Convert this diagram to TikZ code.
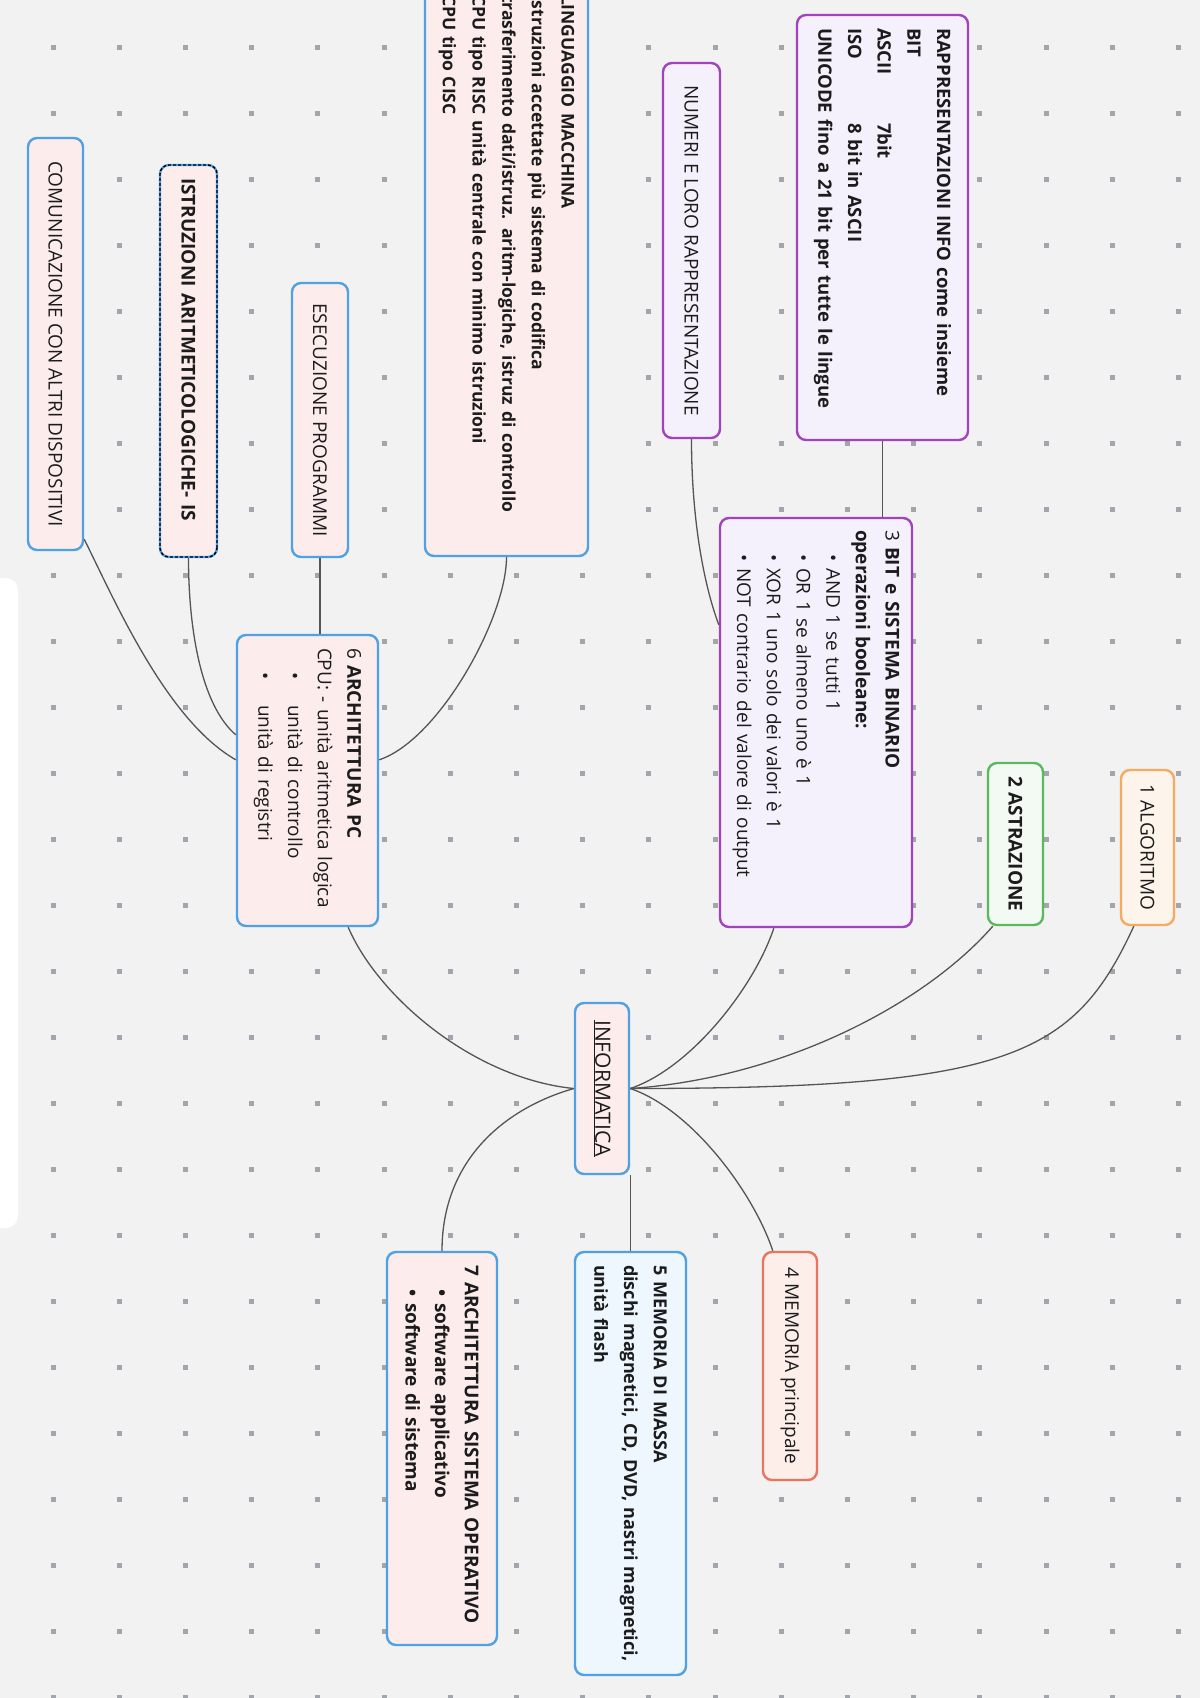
\documentclass[tikz,border=0pt]{standalone}
\usepackage{fontspec}
\setmainfont{Open Sans}
\usetikzlibrary{calc}
\definecolor{bgcol}{RGB}{242,242,242}
\definecolor{dotcol}{RGB}{160,166,172}
\definecolor{linkcol}{RGB}{85,85,85}
\definecolor{inkcol}{RGB}{28,28,28}
\definecolor{bluebd}{RGB}{80,160,228}
\definecolor{pinkfill}{RGB}{253,236,236}
\definecolor{skyfill}{RGB}{238,246,254}
\definecolor{purplebd}{RGB}{162,66,190}
\definecolor{lavfill}{RGB}{245,241,252}
\definecolor{greenbd}{RGB}{92,184,96}
\definecolor{greenfill}{RGB}{243,250,243}
\definecolor{orangebd}{RGB}{246,170,96}
\definecolor{orangefill}{RGB}{253,245,235}
\definecolor{redbd}{RGB}{234,116,96}
\definecolor{redfill}{RGB}{253,238,234}
\newcommand\mapfont{\fontsize{19}{29.7}\selectfont}
\newcommand\boldfont[1]{\fontsize{#1}{29.7}\selectfont\bfseries}
\newcommand\bul{\hspace*{24pt}\textbullet\hspace{7pt}}
\begin{document}
\begin{tikzpicture}[x=1pt, y=-1pt,
  box/.style={draw, rounded corners=9pt, line width=2.4pt, rotate=-90, inner xsep=13pt, inner ysep=0pt, text=inkcol, font=\mapfont},
  pinkbox/.style={box, draw=bluebd, fill=pinkfill},
  purplebox/.style={box, draw=purplebd, fill=lavfill},
  dashbox/.style={pinkbox, postaction={draw=black, line width=1.4pt, dash pattern=on 3pt off 2pt}},
  link/.style={draw=linkcol, line width=1.3pt}]
\useasboundingbox (0,0) rectangle (1200,1698);
\clip (0,0) rectangle (1200,1698);
\fill[bgcol] (0,0) rectangle (1200,1698);
\fill[white, rounded corners=12pt] (-30,578) rectangle (18,1228);
\foreach \i in {0,...,17}
  \foreach \j in {0,...,25}
    \fill[dotcol] ({53+66.2*\i},{47+66*\j}) +(-2.5,-2.5) rectangle +(2.5,2.5);

\node[purplebox, font=\boldfont{18.5}, text width=399pt, minimum height=171pt, align=left] (rappr) at (882.5,227.5) {RAPPRESENTAZIONI INFO come insieme\\ BIT\\ \makebox[95pt][l]{ASCII}7bit\\ \makebox[95pt][l]{ISO}8 bit in ASCII\\ UNICODE fino a 21 bit per tutte le lingue};
\node[purplebox, minimum width=375pt, minimum height=57pt] (numeri) at (691.5,250.5) {NUMERI E LORO RAPPRESENTAZIONE};
\node[purplebox, text width=385pt, minimum height=192pt, inner xsep=12pt, align=left] (bit) at (816,722.5) {3 \textbf{BIT e SISTEMA BINARIO}\\ \textbf{operazioni booleane:}\\ \bul AND 1 se tutti 1\\ \bul OR 1 se almeno uno è 1\\ \bul XOR 1 uno solo dei valori è 1\\ \bul NOT contrario del valore di output};
\node[pinkbox, font=\boldfont{17.5}, text width=541pt, inner xsep=20pt, minimum height=163pt, align=left] (ling) at (506.5,265.5) {LINGUAGGIO MACCHINA\\ Istruzioni accettate più sistema di codifica\\ \mbox{trasferimento dati/istruz. aritm-logiche, istruz di controllo}\\ CPU tipo RISC unità centrale con minimo istruzioni\\ CPU tipo CISC};
\node[pinkbox, minimum width=274pt, minimum height=56pt] (esec) at (320,420) {ESECUZIONE PROGRAMMI};
\node[dashbox, font=\boldfont{19}, text width=366pt, minimum height=57pt, align=left] (istr) at (188.5,361) {ISTRUZIONI ARITMETICOLOGICHE- IS};
\node[pinkbox, minimum width=412pt, minimum height=55pt] (comm) at (55.5,344) {COMUNICAZIONE CON ALTRI DISPOSITIVI};
\node[pinkbox, text width=265pt, minimum height=141pt, align=left] (arch6) at (307.5,780.5) {6 \textbf{ARCHITETTURA PC}\\ CPU: - unità aritmetica logica\\ \hspace*{24pt}\textbullet\hspace{26pt}unità di controllo\\ \hspace*{24pt}\textbullet\hspace{26pt}unità di registri};
\node[pinkbox, font=\fontsize{21}{29.7}\selectfont, minimum width=171pt, minimum height=54pt] (info) at (602,1088.5) {\underline{INFORMATICA}};
\node[box, draw=greenbd, fill=greenfill, font=\boldfont{19}, minimum width=162pt, minimum height=55pt] (astr) at (1015.5,844) {2 ASTRAZIONE};
\node[box, draw=orangebd, fill=orangefill, minimum width=155pt, minimum height=53pt] (algo) at (1147.5,847.5) {1 ALGORITMO};
\node[box, draw=redbd, fill=redfill, minimum width=228pt, minimum height=54pt] (mem4) at (790,1366) {4 MEMORIA principale};
\node[box, draw=bluebd, fill=skyfill, font=\boldfont{18}, text width=397pt, minimum height=111pt, align=left] (massa) at (630.5,1463.5) {5 MEMORIA DI MASSA\\ \mbox{dischi magnetici, CD, DVD, nastri magnetici,}\\ unità flash};
\node[pinkbox, font=\boldfont{19}, text width=367pt, minimum height=110pt, align=left] (so7) at (442,1448.5) {7 ARCHITETTURA SISTEMA OPERATIVO\\ \bul software applicativo\\ \bul software di sistema};

\draw[link] (info.north) .. controls +(380,0) and +(-60,130) .. ([xshift=14pt]algo.south east);
\draw[link] (info.north) .. controls +(150,-10) and +(-70,80) .. ([xshift=6pt]astr.south east);
\draw[link] (info.north) .. controls +(60,-20) and +(-20,60) .. ([xshift=55pt]bit.south east);
\draw[link] (info.north) .. controls +(60,20) and +(-20,-60) .. ([xshift=11pt]mem4.south west);
\draw[link] (info.north east) -- (info.north east |- massa.west);
\draw[link] (info.south) .. controls +(-70,20) and +(0,-90) .. (so7.west);
\draw[link] (info.south) .. controls +(-100,-10) and +(30,70) .. ([xshift=-31pt]arch6.north east);
\draw[link] (rappr.east) -- (rappr.east |- bit.west);
\draw[link] (numeri.east) .. controls +(0,80) and +(-15,-40) .. ([yshift=-108pt]bit.south west);
\draw[link] ([yshift=-126pt]arch6.north west) .. controls +(60,-20) and +(0,60) .. (ling.east);
\draw[link] (esec.east) -- (esec.east |- arch6.west);
\draw[link] ([yshift=-101pt]arch6.south west) .. controls +(-35,-30) and +(0,70) .. (istr.east);
\draw[link] ([yshift=-126pt]arch6.south west) .. controls +(-70,-40) and +(30,60) .. ([yshift=12pt]comm.north east);
\end{tikzpicture}
\end{document}
